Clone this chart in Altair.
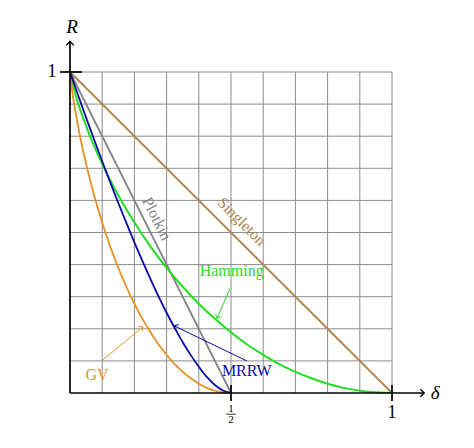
import altair as alt
import pandas as pd

# ---- data ----
gv_delta = [0, 0.01, 0.02, 0.03, 0.05, 0.075, 0.1, 0.125, 0.15, 0.175, 0.2, 0.225, 0.25,
            0.275, 0.3, 0.325, 0.35, 0.375, 0.4, 0.425, 0.45, 0.475, 0.5]
gv_rate = [1, 0.919, 0.859, 0.806, 0.714, 0.616, 0.531, 0.456, 0.390, 0.331, 0.278, 0.231,
           0.189, 0.151, 0.119, 0.090, 0.066, 0.046, 0.029, 0.016, 0.007, 0.002, 0]

ham_delta = [0, 0.02, 0.04, 0.06, 0.1, 0.15, 0.2, 0.25, 0.3, 0.35, 0.4, 0.45, 0.5,
             0.55, 0.6, 0.65, 0.7, 0.75, 0.8, 0.85, 0.9, 0.95, 1]
ham_rate = [1, 0.919, 0.859, 0.806, 0.714, 0.616, 0.531, 0.456, 0.390, 0.331, 0.278, 0.231,
            0.189, 0.151, 0.119, 0.090, 0.066, 0.046, 0.029, 0.016, 0.007, 0.002, 0]

mrrw_delta = [0, 0.01, 0.02, 0.03, 0.05, 0.075, 0.1, 0.125, 0.15, 0.175, 0.2, 0.225, 0.25,
              0.275, 0.3, 0.325, 0.35, 0.375, 0.4, 0.425, 0.45, 0.475, 0.5]
mrrw_rate = [1, 0.971, 0.943, 0.914, 0.858, 0.789, 0.722, 0.656, 0.592, 0.530, 0.469, 0.411,
             0.355, 0.301, 0.250, 0.203, 0.158, 0.118, 0.082, 0.050, 0.025, 0.008, 0]

plotkin_delta = [0, 0.5]
plotkin_rate = [1, 0]

singleton_delta = [0, 1]
singleton_rate = [1, 0]

grid_values = [0.1, 0.2, 0.3, 0.4, 0.5, 0.6, 0.7, 0.8, 0.9, 1.0]

labels = ["GV", "MRRW", "Hamming"]
label_delta = [0.084, 0.549, 0.502]
label_rate = [0.056, 0.067, 0.381]
label_color = ["#e69224", "#0a0aa8", "#22dd22"]

arrow_from_delta = [0.102, 0.549, 0.497]
arrow_from_rate = [0.103, 0.100, 0.326]
arrow_to_delta = [0.226, 0.324, 0.457]
arrow_to_rate = [0.206, 0.209, 0.233]
arrow_angle = [320, 206, 113]

W, H = 322, 321
xs = alt.Scale(domain=[0, 1], nice=False, zero=False)
ys = alt.Scale(domain=[0, 1], nice=False, zero=False)
X = lambda f: alt.X(f, type="quantitative", scale=xs, axis=None)
Y = lambda f: alt.Y(f, type="quantitative", scale=ys, axis=None)

SERIF = "Liberation Serif"

# grid
vgrid = alt.Chart(pd.DataFrame({"d": grid_values, "r0": 0, "r1": 1})).mark_rule(
    color="#8c8c8c", strokeWidth=1).encode(x=X("d"), y=Y("r0"), y2="r1")
hgrid = alt.Chart(pd.DataFrame({"r": grid_values, "d0": 0, "d1": 1})).mark_rule(
    color="#8c8c8c", strokeWidth=1).encode(y=Y("r"), x=X("d0"), x2="d1")

def curve(dl, rl, color, width=1.8):
    return alt.Chart(pd.DataFrame({"d": dl, "r": rl})).mark_line(
        color=color, strokeWidth=width, interpolate="monotone").encode(
        x=X("d"), y=Y("r"), order="d:Q")

singleton = curve(singleton_delta, singleton_rate, "#b5834d")
plotkin = curve(plotkin_delta, plotkin_rate, "#858585")
hamming = curve(ham_delta, ham_rate, "#22dd22", 2)
gv = curve(gv_delta, gv_rate, "#e69224")
mrrw = curve(mrrw_delta, mrrw_rate, "#0a0aa8")

# axes
xaxis = alt.Chart(pd.DataFrame({"d0": [0], "d1": [1.1], "r": [0]})).mark_rule(
    color="black", strokeWidth=1.7).encode(x=X("d0"), x2="d1", y=Y("r"))
yaxis = alt.Chart(pd.DataFrame({"r0": [0], "r1": [1.095], "d": [0]})).mark_rule(
    color="black", strokeWidth=1.7).encode(y=Y("r0"), y2="r1", x=X("d"))
arrow_shape = "M-1,-1L0,0L-1,1"
axis_heads = alt.Chart(pd.DataFrame({"d": [1.1, 0], "r": [0, 1.095], "a": [0, 270]})).mark_point(
    shape=arrow_shape, filled=False, color="black", strokeWidth=1.4, size=60, opacity=1).encode(
    x=X("d"), y=Y("r"), angle=alt.Angle("a:Q", scale=None))

xticks = alt.Chart(pd.DataFrame({"d": [0.5, 1], "r0": -0.025, "r1": 0.025})).mark_rule(
    color="black", strokeWidth=1.7).encode(x=X("d"), y=Y("r0"), y2="r1")
ytick = alt.Chart(pd.DataFrame({"r": [1], "d0": -0.031, "d1": 0.037})).mark_rule(
    color="black", strokeWidth=1.7).encode(y=Y("r"), x=X("d0"), x2="d1")

tick_text = alt.Chart(pd.DataFrame({"d": [-0.056, 1], "r": [1, -0.062], "t": ["1", "1"]})).mark_text(
    font=SERIF, fontSize=18, color="black").encode(x=X("d"), y=Y("r"), text="t:N")

half_text = alt.Chart(pd.DataFrame({"d": [0.5, 0.5], "r": [-0.049, -0.085], "t": ["1", "2"]})).mark_text(
    font=SERIF, fontSize=11, color="black").encode(x=X("d"), y=Y("r"), text="t:N")
half_bar = alt.Chart(pd.DataFrame({"d0": [0.485], "d1": [0.515], "r": [-0.066]})).mark_rule(
    color="black", strokeWidth=0.8).encode(x=X("d0"), x2="d1", y=Y("r"))

axis_titles = alt.Chart(pd.DataFrame({"d": [0.006, 1.134], "r": [1.14, 0], "t": ["R", "δ"]})).mark_text(
    font=SERIF, fontSize=19, fontStyle="italic", color="black").encode(x=X("d"), y=Y("r"), text="t:N")

# annotations
ann = pd.DataFrame({"t": labels, "d": label_delta, "r": label_rate, "c": label_color,
                    "fd": arrow_from_delta, "fr": arrow_from_rate,
                    "td": arrow_to_delta, "tr": arrow_to_rate, "a": arrow_angle})
ann_text = alt.Chart(ann).mark_text(font=SERIF, fontSize=16).encode(
    x=X("d"), y=Y("r"), text="t:N", color=alt.Color("c:N", scale=None))
ann_line = alt.Chart(ann).mark_rule(strokeWidth=1).encode(
    x=X("fd"), y=Y("fr"), x2="td", y2="tr", color=alt.Color("c:N", scale=None))
ann_head = alt.Chart(ann).mark_point(shape=arrow_shape, filled=False, strokeWidth=1, size=40,
                                     opacity=1).encode(
    x=X("td"), y=Y("tr"), color=alt.Color("c:N", scale=None), angle=alt.Angle("a:Q", scale=None))

rot = pd.DataFrame({"t": ["Plotkin", "Singleton"], "d": [0.269, 0.533], "r": [0.543, 0.534],
                    "c": ["#858585", "#b5834d"], "a": [63, 45]})
rot_text = alt.Chart(rot).mark_text(font=SERIF, fontSize=16).encode(
    x=X("d"), y=Y("r"), text="t:N", color=alt.Color("c:N", scale=None),
    angle=alt.Angle("a:Q", scale=None))

chart = alt.layer(
    vgrid, hgrid, singleton, plotkin, hamming, gv, mrrw,
    xaxis, yaxis, axis_heads, xticks, ytick, tick_text, half_text, half_bar, axis_titles,
    ann_line, ann_head, ann_text, rot_text
).properties(
    width=W, height=H,
    autosize=alt.AutoSizeParams(type="none"),
    padding={"left": 62, "top": 64, "right": 70, "bottom": 40},
).configure_view(stroke=None)

chart.save("out.html", embed_options={"renderer": "svg", "actions": False})
